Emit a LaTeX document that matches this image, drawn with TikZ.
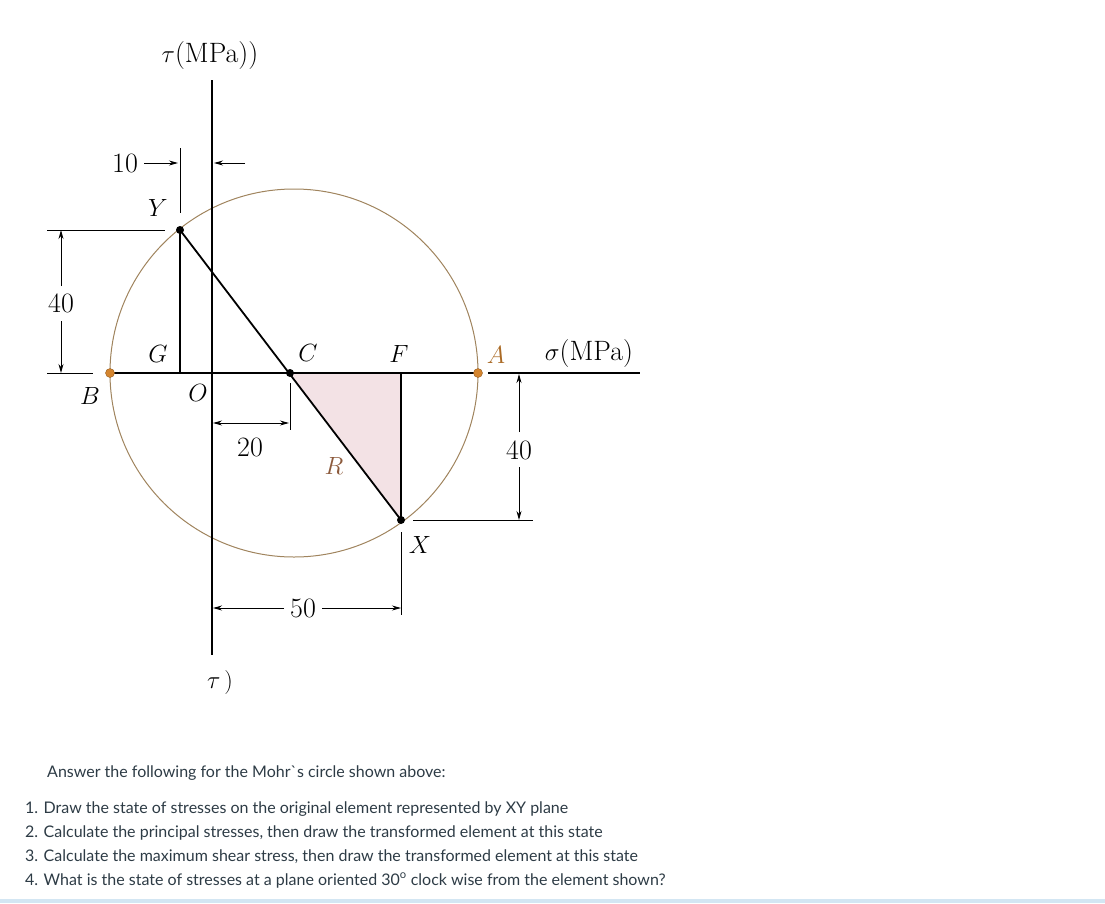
\documentclass[tikz,border=0pt]{standalone}
\usepackage{fontspec}
\usetikzlibrary{arrows.meta}
\newfontfamily\lato{Lato}[Ligatures=TeXOff]
\definecolor{circ}{HTML}{A0845E}
\definecolor{orng}{HTML}{D4852F}
\definecolor{tri}{HTML}{F3E2E5}
\definecolor{txt}{HTML}{2D3B45}
\definecolor{rulec}{HTML}{D3E6F3}
\definecolor{rlab}{HTML}{8C5A3C}
\begin{document}
\begin{tikzpicture}[x=1pt,y=-1pt,
  lbl/.style={font=\fontsize{28}{28}\selectfont, inner sep=0pt},
  slbl/.style={font=\fontsize{24}{24}\selectfont, inner sep=0pt},
  ax/.style={line width=1.4pt},
  dim/.style={line width=0.9pt},
  arr/.style={-{Stealth[length=9pt,width=5pt]}},
  dot/.style={circle, fill=black, inner sep=0pt, minimum size=8pt},
  odot/.style={circle, fill=orng, draw=orng!70!black, inner sep=0pt, minimum size=9pt},
  qtext/.style={font=\lato\fontsize{16}{18}\selectfont, text=txt, anchor=base west, inner sep=0pt}]
\useasboundingbox (0,0) rectangle (1105,903);
% points
\coordinate (tT) at (212,80);
\coordinate (tB) at (212,655);
\coordinate (Cc) at (294,373);
\coordinate (B) at (110,373);
\coordinate (A) at (478,373);
\coordinate (aR1) at (488,373);
\coordinate (aR2) at (640,373);
\coordinate (Y) at (180,230);
\coordinate (X) at (401,520);
\coordinate (C) at (290,373);
\coordinate (F) at (401,373);
\coordinate (Gf) at (180,373);
% shaded triangle
\fill[tri] (C) -- (F) -- (X) -- cycle;
% circle
\draw[circ, line width=1pt] (Cc) circle[radius=184pt];
% axes
\draw[ax] (tT) -- (tB);
\draw[ax] (B) -- (A);
\draw[ax] (aR1) -- (aR2);
% Y-X diameter and legs
\draw[line width=1.8pt] (Y) -- (X);
\draw[ax] (Y) -- (Gf);
\draw[ax] (F) -- (X);
% extension lines
\coordinate (eY1) at (180,148); \coordinate (eY2) at (180,213);
\draw[dim] (eY1) -- (eY2);
\coordinate (eX1) at (401,532); \coordinate (eX2) at (401,615);
\draw[dim] (eX1) -- (eX2);
\coordinate (eXr1) at (413,520); \coordinate (eXr2) at (533,520);
\draw[dim] (eXr1) -- (eXr2);
\coordinate (eYl1) at (47,230); \coordinate (eYl2) at (165,230);
\draw[dim] (eYl1) -- (eYl2);
\coordinate (eBl1) at (47,373); \coordinate (eBl2) at (93,373);
\draw[dim] (eBl1) -- (eBl2);
\coordinate (eC1) at (290,383); \coordinate (eC2) at (290,430);
\draw[dim] (eC1) -- (eC2);
% 10 dimension
\node[lbl] (n10) at (125,163) {10};
\coordinate (d10a) at (144,163); \coordinate (d10b) at (178,163);
\coordinate (d10c) at (245,163); \coordinate (d10d) at (214,163);
\draw[dim,arr] (d10a) -- (d10b);
\draw[dim,arr] (d10c) -- (d10d);
% left 40
\node[lbl] (n40l) at (61,303) {40};
\coordinate (l40t) at (61,230); \coordinate (l40b) at (61,373);
\draw[dim,arr] (61,286) -- (l40t);
\draw[dim,arr] (61,321) -- (l40b);
% right 40
\node[lbl] (n40r) at (519,450) {40};
\coordinate (r40t) at (519,374); \coordinate (r40b) at (519,520);
\draw[dim,arr] (519,432) -- (r40t);
\draw[dim,arr] (519,467) -- (r40b);
% 20
\node[lbl] (n20) at (250,447) {20};
\coordinate (d20a) at (213,423); \coordinate (d20b) at (289,423);
\draw[dim,{Stealth[length=9pt,width=5pt]}-{Stealth[length=9pt,width=5pt]}] (d20a) -- (d20b);
% 50
\node[lbl] (n50) at (303,608) {50};
\coordinate (d50a) at (213,608); \coordinate (d50b) at (401,608);
\draw[dim,arr] (284,608) -- (d50a);
\draw[dim,arr] (322,608) -- (d50b);
% dots
\node[dot] (dY) at (Y) {};
\node[dot] (dX) at (X) {};
\node[dot] (dC) at (C) {};
\node[odot] (dB) at (B) {};
\node[odot] (dA) at (A) {};
% labels
\node[lbl] (ltau) at (210,56) {$\tau$(MPa))};
\node[lbl] (lsig) at (589,354) {$\sigma$(MPa)};
\node[slbl] (lY) at (158,208) {$Y$};
\node[lbl] (lG) at (158,354) {$G$};
\node[lbl] (lO) at (198,393) {$O$};
\node[lbl] (lC) at (308,353) {$C$};
\node[lbl] (lF) at (399,354) {$F$};
\node[lbl, text=orng!80!black] (lA) at (496,355) {$A$};
\node[lbl] (lB) at (90,396) {$B$};
\node[lbl, text=rlab] (lR) at (334,466) {$R$};
\node[lbl] (lX) at (420,545) {$X$};
\node[slbl] (ltau2) at (220,682) {$\tau$\,)};
% question text
\node[qtext] (q0) at (47,777) {Answer the following for the Mohr\symbol{96}s circle shown above:};
\node[qtext] (q1) at (25,813) {1. Draw the state of stresses on the original element represented by XY plane};
\node[qtext] (q2) at (25,837) {2. Calculate the principal stresses, then draw the transformed element at this state};
\node[qtext] (q3) at (25,861) {3. Calculate the maximum shear stress, then draw the transformed element at this state};
\node[qtext] (q4) at (25,885) {4. What is the state of stresses at a plane oriented 30\textsuperscript{o} clock wise from the element shown?};
\fill[rulec] (0,899) rectangle (1105,903);
\end{tikzpicture}
\end{document}
